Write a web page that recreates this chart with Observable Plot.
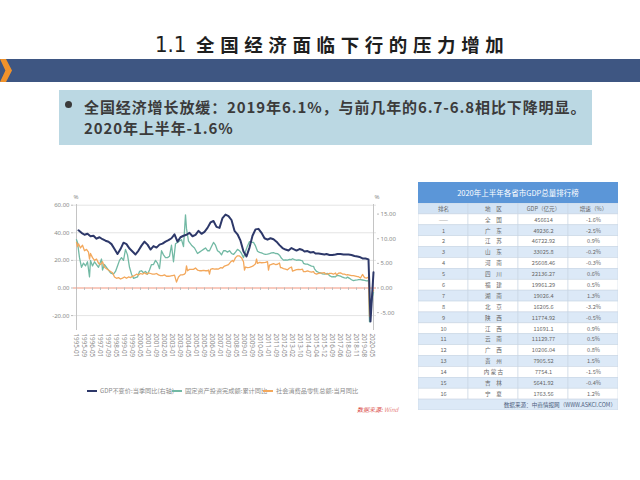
<!DOCTYPE html>
<html><head><meta charset="utf-8">
<script src="https://cdn.jsdelivr.net/npm/d3@7"></script>
<script src="https://cdn.jsdelivr.net/npm/@observablehq/plot@0.6"></script>
<style>
body{margin:0;width:640px;height:480px;background:#fff;position:relative;overflow:hidden;font-family:"Noto Sans CJK SC","Noto Sans",sans-serif;}
.abs{position:absolute;white-space:nowrap;}
.lg{position:absolute;font-size:6.2px;color:#8a8a8a;line-height:8px;white-space:nowrap;}
.sw{position:absolute;height:2px;width:10px;}
.bl{position:absolute;left:84px;font-size:15px;font-weight:700;line-height:15px;letter-spacing:0.9px;color:#3b3b3b;white-space:nowrap;}
</style></head><body>

<div class="abs" style="left:155px;top:30px;line-height:28px;color:#1e1e1e;">
  <span style="font-family:'Liberation Sans Narrow','DejaVu Sans Condensed',sans-serif;font-size:22px;">1.1</span>
  <span style="font-size:18.5px;font-weight:700;letter-spacing:5.6px;margin-left:6px;">全国经济面临下行的压力增加</span>
</div>
<div class="abs" style="left:0;top:59px;width:640px;height:23px;background:#3e5682;"></div>
<div class="abs" style="left:0;top:59px;width:12px;height:23px;background:#f0922b;clip-path:polygon(0 0,50% 0,100% 50%,50% 100%,0 100%,45% 50%);"></div>

<div class="abs" style="left:59px;top:90px;width:533px;height:55px;background:#bbd8e3;"></div>
<div class="abs" style="left:65px;top:101px;width:7px;height:7px;border-radius:50%;background:#3a3a3a;"></div>
<div class="bl" style="top:99px;">全国经济增长放缓：2019年6.1%，与前几年的6.7-6.8相比下降明显。</div>
<div class="bl" style="top:120px;">2020年上半年-1.6%</div>

<div id="chart" class="abs" style="left:20px;top:185px;"></div>

<div class="sw" style="left:87px;top:390px;background:#2d3869;"></div>
<div class="lg" style="left:100px;top:387px;">GDP不变价:当季同比(右轴)</div>
<div class="sw" style="left:172px;top:390px;background:#72b9a4;"></div>
<div class="lg" style="left:185px;top:387px;">固定资产投资完成额:累计同比</div>
<div class="sw" style="left:263px;top:390px;background:#f3a85c;"></div>
<div class="lg" style="left:276px;top:387px;">社会消费品零售总额:当月同比</div>
<div class="abs" style="left:357px;top:405px;font-size:6px;font-style:italic;color:#d9473f;">数据来源: <span style="color:#e88a86;">Wind</span></div>

<div class="abs" style="left:418px;top:182px;width:200px;height:21px;background:#5b96d8;color:#fff;font-size:7.5px;line-height:21px;text-align:center;">2020年上半年各省市GDP总量排行榜</div>
<div id="table" class="abs" style="left:418px;top:203px;"></div>

<script>
// ---------- chart data ----------
const leftTicks = [-20, 0, 20, 40, 60];
const rightTicks = [-5, 0, 5, 10, 15];
const xTickLabels = ["1995-01","1995-09","1996-05","1997-01","1997-09","1998-05","1999-01","1999-09","2000-05","2001-01","2001-09","2002-05","2003-01","2003-09","2004-05","2005-01","2005-09","2006-05","2007-01","2007-09","2008-05","2009-01","2009-09","2010-05","2011-01","2011-09","2012-05","2013-02","2013-10","2014-07","2015-04","2015-12","2016-09","2017-06","2018-03","2018-11","2019-08","2020-05"];

// GDP constant price, quarterly YoY (right axis), Q1..Q4 from 1995, then 2020 Q1,Q2
const gdpValues = [
 11.7,11.2,10.8,11.0, 10.5,10.6,10.0,10.3, 9.9,9.6,9.4,8.9, 7.9,6.9,7.9,9.2,
 8.9,8.0,7.4,6.8, 7.6,8.6,9.4,8.8, 7.8,8.5,8.2,8.8, 9.0,9.4,9.7,10.1,
 10.9,9.4,10.3,10.6, 10.8,11.2,10.5,10.8, 11.6,11.0,11.4,12.2, 13.3,13.6,12.4,12.2,
 14.2,14.9,14.6,13.8, 11.6,10.9,9.6,7.4, 6.4,8.2,10.6,11.9, 12.0,11.2,10.1,9.8,
 10.1,9.9,9.4,8.7, 8.1,7.8,7.6,8.1, 7.9,7.6,7.9,7.7, 7.4,7.5,7.2,7.3,
 7.0,7.0,6.9,6.8, 6.9,6.7,6.7,6.8, 6.9,6.9,6.8,6.8, 6.8,6.7,6.5,6.4,
 6.3,6.0,6.0,5.8, -6.8,3.2];

// Fixed-asset investment, cumulative YoY (left axis)
const faiSeries = [
 ["1995-01",35],["1995-02",33],["1995-04",22],["1995-06",15],["1995-08",18],["1995-10",16],["1995-12",19],
 ["1996-02",8],["1996-03",20],["1996-05",16],["1996-07",19],["1996-09",17],["1996-11",15],
 ["1997-02",21],["1997-03",13],["1997-05",17],["1997-07",15],["1997-09",13],["1997-11",11],
 ["1998-02",10],["1998-04",12],["1998-06",16],["1998-08",20],["1998-10",22],["1998-12",20],
 ["1999-02",28],["1999-04",24],["1999-06",15],["1999-08",10],["1999-10",7],["1999-12",7.5],
 ["2000-02",8],["2000-04",12],["2000-06",12.5],["2000-08",11],["2000-10",12],["2000-12",10],
 ["2001-02",13],["2001-04",17],["2001-06",17],["2001-08",20],["2001-10",18],["2001-12",14],
 ["2002-02",27],["2002-04",24],["2002-06",22],["2002-08",22],["2002-10",23],["2002-12",31],
 ["2003-02",19],["2003-04",32],["2003-06",33],["2003-08",34],["2003-10",35],["2003-12",30],
 ["2004-02",53],["2004-03",43],["2004-05",34],["2004-08",31],["2004-11",29],
 ["2005-02",25],["2005-04",26],["2005-06",27],["2005-08",28],["2005-10",29],["2005-12",27],
 ["2006-02",27],["2006-04",30],["2006-06",33],["2006-08",31],["2006-10",27],["2006-12",26],
 ["2007-02",24],["2007-04",27],["2007-06",27],["2007-08",26],["2007-10",27],["2007-12",25],
 ["2008-02",24.3],["2008-04",26],["2008-06",28],["2008-08",27],["2008-10",25],["2008-12",22],
 ["2009-02",26.5],["2009-04",30.5],["2009-06",33.6],["2009-08",33],["2009-10",33.1],["2009-12",30.5],
 ["2010-02",26.6],["2010-04",25.8],["2010-06",25.5],["2010-08",24.8],["2010-10",24.4],["2010-12",24.5],
 ["2011-02",24.9],["2011-04",25.4],["2011-06",25.6],["2011-08",25.0],["2011-10",24.9],["2011-12",23.8],
 ["2012-02",21.5],["2012-04",20.2],["2012-06",20.4],["2012-08",20.2],["2012-10",20.7],["2012-12",20.6],
 ["2013-02",21.2],["2013-04",20.6],["2013-06",20.1],["2013-08",20.3],["2013-10",20.1],["2013-12",19.6],
 ["2014-02",17.9],["2014-04",17.3],["2014-06",17.3],["2014-08",16.5],["2014-10",15.9],["2014-12",15.7],
 ["2015-02",13.9],["2015-04",12.0],["2015-06",11.4],["2015-08",10.9],["2015-10",10.2],["2015-12",10.0],
 ["2016-02",10.2],["2016-04",10.5],["2016-06",9.0],["2016-08",8.1],["2016-10",8.3],["2016-12",8.1],
 ["2017-02",8.9],["2017-04",8.9],["2017-06",8.6],["2017-08",7.8],["2017-10",7.3],["2017-12",7.2],
 ["2018-02",7.9],["2018-04",7.0],["2018-06",6.0],["2018-08",5.3],["2018-10",5.7],["2018-12",5.9],
 ["2019-02",6.1],["2019-04",6.1],["2019-06",5.8],["2019-08",5.5],["2019-10",5.2],["2019-12",5.4],
 ["2020-02",-24.5],["2020-03",-16.1],["2020-04",-10.3],["2020-05",-6.3],["2020-06",-3.1]];

// Retail sales of consumer goods, monthly YoY (left axis)
const retailSeries = [
 ["1995-01",33],["1995-02",30],["1995-03",32],["1995-05",29],["1995-07",31],["1995-09",27],["1995-11",28],
 ["1996-01",26],["1996-02",21],["1996-03",25],["1996-05",22],["1996-07",20],["1996-09",21],["1996-11",18],
 ["1997-01",17],["1997-03",19],["1997-05",15],["1997-07",14],["1997-09",13],["1997-11",12],
 ["1998-01",11],["1998-03",8],["1998-05",7],["1998-07",7.5],["1998-09",6.5],["1998-11",7.2],
 ["1999-01",8],["1999-03",7],["1999-05",8],["1999-07",7.5],["1999-09",8.5],["1999-11",9],
 ["2000-01",10],["2000-03",9.5],["2000-05",10.5],["2000-07",10],["2000-09",11],["2000-11",10],
 ["2001-01",11],["2001-03",10.5],["2001-05",10],["2001-07",10],["2001-09",10.5],["2001-11",9.5],
 ["2002-01",9],["2002-03",9],["2002-05",9.5],["2002-07",8.5],["2002-09",8.5],["2002-11",8.7],
 ["2003-01",9],["2003-03",9.3],["2003-05",4.3],["2003-07",8],["2003-09",9.5],["2003-11",9.5],
 ["2004-01",10],["2004-02",11],["2004-03",16],["2004-04",12.5],["2004-06",13.5],["2004-08",13.5],["2004-10",13.5],["2004-12",14.5],
 ["2005-02",13],["2005-04",12.5],["2005-06",12.5],["2005-08",12.7],["2005-10",12.5],["2005-12",12.5],
 ["2006-01",13],["2006-02",10],["2006-03",13.5],["2006-05",14],["2006-07",13.7],["2006-09",13.9],["2006-11",13.7],
 ["2007-01",14.7],["2007-03",14.5],["2007-05",15.9],["2007-07",16.4],["2007-09",17],["2007-11",18.8],
 ["2008-01",20],["2008-02",19],["2008-04",22],["2008-06",23.3],["2008-08",23.2],["2008-10",22],["2008-12",19],
 ["2009-01",13],["2009-02",15.2],["2009-04",14.8],["2009-06",15],["2009-08",15.4],["2009-10",16.2],["2009-12",17.5],
 ["2010-01",21],["2010-02",17.9],["2010-04",18.5],["2010-06",18.3],["2010-08",18.4],["2010-10",18.6],["2010-12",19.1],
 ["2011-01",13],["2011-02",16.5],["2011-04",17.1],["2011-06",17.7],["2011-08",17],["2011-10",17.2],["2011-12",18.1],
 ["2012-01",14.7],["2012-02",14.7],["2012-04",14.1],["2012-06",13.7],["2012-08",13.2],["2012-10",14.5],["2012-12",15.2],
 ["2013-02",12.3],["2013-04",12.8],["2013-06",13.3],["2013-08",13.4],["2013-10",13.3],["2013-12",13.6],
 ["2014-02",11.8],["2014-04",11.9],["2014-06",12.4],["2014-08",11.9],["2014-10",11.5],["2014-12",11.9],
 ["2015-02",10.7],["2015-04",10.0],["2015-06",10.6],["2015-08",10.8],["2015-10",11.0],["2015-12",11.1],
 ["2016-02",10.2],["2016-04",10.1],["2016-06",10.6],["2016-08",10.6],["2016-10",10.0],["2016-12",10.9],
 ["2017-02",9.5],["2017-04",10.7],["2017-06",11.0],["2017-08",10.1],["2017-10",10.0],["2017-12",9.4],
 ["2018-02",9.7],["2018-04",9.4],["2018-06",9.0],["2018-08",9.0],["2018-10",8.6],["2018-12",8.2],
 ["2019-02",8.2],["2019-04",7.2],["2019-06",9.8],["2019-08",7.5],["2019-10",7.2],["2019-12",8.0],
 ["2020-02",-20.5],["2020-03",-15.8],["2020-04",-7.5],["2020-05",-2.8],["2020-06",-1.8]];

// ---------- table data ----------
const tableHeader = ["排名","地　区","GDP（亿元）","增速（%）"];
const ranks = ["——","1","2","3","4","5","6","7","8","9","10","11","12","13","14","15","16"];
const regions = ["全　国","广　东","江　苏","山　东","河　南","四　川","福　建","湖　南","北　京","陕　西","江　西","云　南","广　西","贵　州","内 蒙 古","吉　林","宁　夏"];
const gdpTotals = ["456614","49236.2","46722.92","33025.8","25608.46","22136.27","19961.29","19026.4","16205.6","11774.92","11691.1","11129.77","10206.04","7905.52","7754.1","5641.92","1763.56"];
const growth = ["-1.6%","-2.5%","0.9%","-0.2%","-0.3%","0.6%","0.5%","1.3%","-3.2%","-0.5%","0.9%","0.5%","0.8%","1.5%","-1.5%","-0.4%","1.2%"];
const tableSource = "数据来源：中商情报网（WWW.ASKCI.COM）";

// ---------- build chart ----------
const months = [];
for (let y = 1995; y <= 2020; y++) for (let m = 1; m <= 12; m++) {
  if (y === 2020 && m > 6) break;
  if (y >= 2013 && m === 1) continue;
  months.push(`${y}-${String(m).padStart(2, "0")}`);
}
const quarterMonths = months.filter(m => ["03","06","09","12"].includes(m.slice(5)));
const gdpData = gdpValues.map((v, i) => ({m: quarterMonths[i], v}));
const faiData = faiSeries.map(([m, v]) => ({m, v}));
const retailData = retailSeries.map(([m, v]) => ({m, v}));
const K = 3.57; // right-axis to left-axis ratio

const chart = Plot.plot({
  width: 380, height: 185,
  marginLeft: 53, marginRight: 24, marginTop: 19, marginBottom: 40,
  x: {type: "point", domain: months, padding: 0},
  y: {domain: [-30.8, 60.5]},
  style: {fontFamily: "'Noto Sans','DejaVu Sans',sans-serif", fontSize: "6px", color: "#8a8a8a", background: "transparent", overflow: "visible"},
  marks: [
    Plot.gridY(leftTicks.filter(d => d !== 0), {stroke: "#e4e4e4", strokeOpacity: 1}),
    Plot.ruleX([months[0], months[months.length - 1]], {stroke: "#c4c4c4"}),
    Plot.ruleY([0], {stroke: "#f2957f", strokeWidth: 1.1}),
    Plot.ruleX(xTickLabels, {x: d => d, y1: 0, y2: -1.7, stroke: "#bbb"}),
    Plot.axisY({anchor: "left", ticks: leftTicks, tickFormat: d => d.toFixed(2), tickSize: 2, tickPadding: 2, label: null, stroke: "#bbb"}),
    Plot.axisY({anchor: "right", ticks: rightTicks.map(v => v * K), tickFormat: v => (v / K).toFixed(2), tickSize: 2, tickPadding: 2, label: null, stroke: "#bbb"}),
    Plot.axisX({ticks: xTickLabels, tickRotate: 90, tickSize: 0, tickPadding: 3, label: null, fontSize: 6.3}),
    Plot.line(faiData, {x: "m", y: "v", stroke: "#72b9a4", strokeWidth: 1.3}),
    Plot.line(retailData, {x: "m", y: "v", stroke: "#f3a85c", strokeWidth: 1.3}),
    Plot.line(gdpData, {x: "m", y: d => d.v * K, stroke: "#2d3869", strokeWidth: 2}),
    Plot.text(["%"], {frameAnchor: "top-left", dy: -10, fill: "#8a8a8a"}),
    Plot.text(["%"], {frameAnchor: "top-right", dx: 3, dy: -10, fill: "#8a8a8a"})
  ]
});
document.getElementById("chart").appendChild(chart);

// ---------- build table ----------
const cells = [];
const texts = [];
tableHeader.forEach((t, c) => { cells.push({x1: c, x2: c + 1, y1: 0, y2: 1, fill: "#d3e3f4"}); texts.push({x: c + 0.5, y: 0.5, t, fill: "#666"}); });
ranks.forEach((r, i) => {
  const row = i + 1;
  const fill = i % 2 === 1 ? "#dce9f7" : "#ffffff";
  [r, regions[i], gdpTotals[i], growth[i]].forEach((t, c) => {
    cells.push({x1: c, x2: c + 1, y1: row, y2: row + 1, fill});
    texts.push({x: c + 0.5, y: row + 0.5, t, fill: "#666"});
  });
});
cells.push({x1: 0, x2: 4, y1: 18, y2: 19, fill: "#dce9f7"});

const table = Plot.plot({
  width: 200, height: 207, margin: 0,
  x: {domain: [0, 4], axis: null},
  y: {domain: [19, 0], axis: null},
  style: {background: "transparent", fontFamily: "'Noto Sans CJK SC',sans-serif"},
  marks: [
    Plot.rect(cells, {x1: "x1", x2: "x2", y1: "y1", y2: "y2", fill: "fill", stroke: "#c9d6e4", strokeWidth: 0.6}),
    Plot.text(texts, {x: "x", y: "y", text: "t", fill: "fill", fontSize: 5.6}),
    Plot.text([tableSource], {x: 3.95, y: 18.5, textAnchor: "end", fill: "#4d5f80", fontSize: 5.6})
  ]
});
document.getElementById("table").appendChild(table);
</script>
</body></html>
